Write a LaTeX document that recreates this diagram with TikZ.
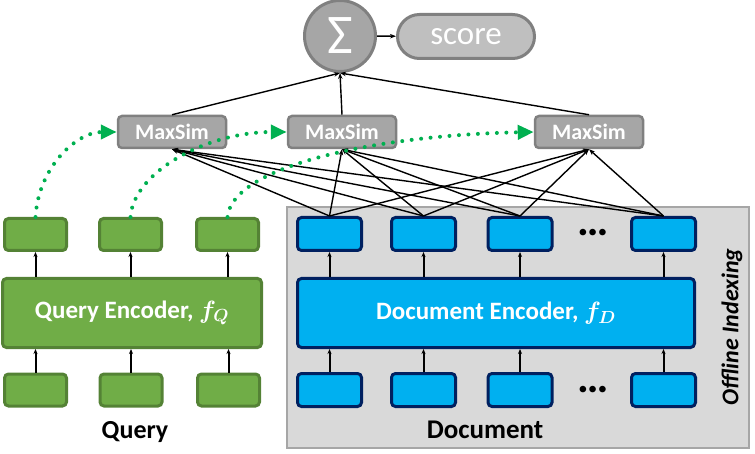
\documentclass[tikz,border=0pt]{standalone}
\usepackage{fix-cm}
\usepackage{fontspec}
\setmainfont{Carlito}
\usetikzlibrary{arrows.meta}

\definecolor{qgreen}{RGB}{112,173,71}
\definecolor{qgreenline}{RGB}{84,130,53}
\definecolor{dblue}{RGB}{0,176,240}
\definecolor{dblueline}{RGB}{0,32,96}
\definecolor{simgray}{RGB}{166,166,166}
\definecolor{simline}{RGB}{128,128,128}
\definecolor{scoregray}{RGB}{191,191,191}
\definecolor{offgray}{RGB}{217,217,217}
\definecolor{dotgreen}{RGB}{0,176,80}

\tikzset{
  qvec/.style={draw=qgreenline, fill=qgreen, line width=3pt, rounded corners=4pt,
    minimum width=62pt, minimum height=32pt, inner sep=0pt},
  dvec/.style={draw=dblueline, fill=dblue, line width=3pt, rounded corners=4pt,
    minimum width=64pt, minimum height=33pt, inner sep=0pt},
  encoder/.style={line width=3pt, rounded corners=4pt, minimum height=69pt,
    inner sep=0pt, text=white, font=\fontsize{25}{30}\selectfont\bfseries\boldmath},
  maxsim/.style={draw=simline, fill=simgray, line width=2.5pt, rounded corners=4pt,
    minimum width=108pt, minimum height=32pt, inner sep=0pt, text=white,
    font=\fontsize{22}{22}\selectfont\bfseries},
  up/.style={-{Stealth[length=5pt,width=4pt]}, line width=2pt},
  sim/.style={-{Stealth[length=6pt,width=4.5pt]}, line width=1.4pt},
  match/.style={dotgreen, line width=4pt, line cap=round, dash pattern=on 0pt off 9.5pt,
    -{Triangle[length=16pt,width=14pt]}},
  caption/.style={font=\fontsize{26}{30}\selectfont\bfseries},
  more/.style={font=\fontsize{44}{44}\selectfont\bfseries},
}

\begin{document}
\begin{tikzpicture}[x=1pt,y=-1pt]
  \useasboundingbox (0,0) rectangle (755,454);

  % offline part
  \draw[draw=simline!70, fill=offgray, line width=1.5pt] (287,207) rectangle (749,448);
  \node[rotate=90, font=\fontsize{24}{28}\selectfont\bfseries\itshape] (offline) at (732,327) {Offline Indexing};

  % score
  \node[circle, draw=simline, fill=simgray, line width=3pt, minimum size=71pt, inner sep=0pt,
    text=white, font=\fontsize{56}{56}\selectfont] (sum) at (340,36) {Σ};
  \node[draw=simline, fill=scoregray, line width=3pt, rounded corners=22pt, minimum width=137pt,
    minimum height=44pt, text=white, font=\fontsize{33}{33}\selectfont] (score) at (466,36.5) {score};
  \draw[sim, line width=1.5pt] (sum) -- (score);

  % maxsim
  \node[maxsim] (ms1) at (172,132) {MaxSim};
  \node[maxsim] (ms2) at (342,132) {MaxSim};
  \node[maxsim] (ms3) at (589,132) {MaxSim};
  \foreach \m in {ms1,ms2,ms3}
    \draw[sim] (\m.north) -- (sum.south);

  % query side
  \node[encoder, draw=qgreenline, fill=qgreen, minimum width=259pt] (qenc) at (132,313) {Query Encoder, $f_Q$};
  \node[qvec] (qo1) at (35.5,234.5) {};
  \node[qvec] (qo2) at (130.5,234.5) {};
  \node[qvec] (qo3) at (227.5,234.5) {};
  \node[qvec] (qi1) at (35.5,390) {};
  \node[qvec] (qi2) at (131,390) {};
  \node[qvec] (qi3) at (228.5,390) {};
  \foreach \i in {1,2,3} {
    \draw[up] (qi\i.north) -- (qi\i.north |- qenc.south);
    \draw[up] (qo\i.south |- qenc.north) -- (qo\i.south);
  }
  \node[caption] (query) at (135,432) {Query};

  % document side
  \node[encoder, draw=dblueline, fill=dblue, minimum width=397pt] (denc) at (496,313) {Document Encoder, $f_D$};
  \node[dvec] (do1) at (329.5,234) {};
  \node[dvec] (do2) at (423.5,234) {};
  \node[dvec] (do3) at (520,234) {};
  \node[dvec] (do4) at (663.5,234) {};
  \node[dvec] (di1) at (329.5,390) {};
  \node[dvec] (di2) at (423.5,390) {};
  \node[dvec] (di3) at (520,390) {};
  \node[dvec] (di4) at (663.5,390) {};
  \foreach \i in {1,...,4} {
    \draw[up] (di\i.north) -- (di\i.north |- denc.south);
    \draw[up] (do\i.south |- denc.north) -- (do\i.south);
  }
  \node[more] (dots1) at (593,233) {…};
  \node[more] (dots2) at (593,390) {…};
  \node[caption, font=\fontsize{27}{30}\selectfont\bfseries] (doc) at (485,430) {Document};

  % similarity
  \foreach \m in {ms1,ms2,ms3}
    \foreach \i in {1,...,4}
      \draw[sim] (do\i.north) -- (\m.south);

  % query vectors to maxsim
  \draw[match] (qo1.north) .. controls +(3,-50) and +(-40,0) .. (ms1.west);
  \draw[match] (qo2.north) .. controls +(3,-45) and +(-80,0) .. (ms2.west);
  \draw[match] (qo3.north) .. controls +(5,-52) and +(-153,3) .. (ms3.west);
\end{tikzpicture}
\end{document}
